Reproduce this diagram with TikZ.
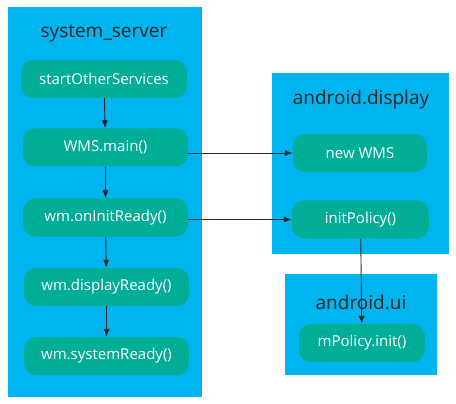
\documentclass[tikz,border=0pt]{standalone}
\usepackage{fontspec}
\usetikzlibrary{arrows.meta}
\setmainfont{Open Sans}
\definecolor{boxblue}{RGB}{0,180,240}
\definecolor{stepgreen}{RGB}{0,174,152}
\tikzset{
  proc/.style={fill=stepgreen,text=white,rounded corners=12pt,minimum height=38pt,font=\fontsize{15}{17}\selectfont},
  title/.style={font=\fontsize{19}{22}\selectfont,text=black!85},
  lane/.style={fill=boxblue,draw=none},
  link/.style={draw=black!85,line width=0.9pt,-{Latex[length=8pt,width=6pt]}}
}
\begin{document}
\begin{tikzpicture}[x=1pt,y=-1pt]
\useasboundingbox (0,0) rectangle (456,404);
\fill[white] (0,0) rectangle (456,404);
\draw[lane] (8,7) rectangle (202,397);
\draw[lane] (272,73) rectangle (449,254);
\draw[lane] (285,274) rectangle (437,375);
\node[title] (t1) at (104,34) {system\_server};
\node[title] (t2) at (361,100) {android.display};
\node[title] (t3) at (361,302) {android.ui};
\node[proc,minimum width=166pt] (s1) at (104,79) {startOtherServices};
\node[proc,minimum width=165pt] (s2) at (105.5,147.5) {WMS.main()};
\node[proc,minimum width=165pt] (s3) at (105.5,217.5) {wm.onInitReady()};
\node[proc,minimum width=165pt] (s4) at (106.5,287) {wm.displayReady()};
\node[proc,minimum width=165pt] (s5) at (106.5,356) {wm.systemReady()};
\node[proc,minimum width=134pt] (d1) at (360,153) {new WMS};
\node[proc,minimum width=137pt] (d2) at (360.5,219.5) {initPolicy()};
\node[proc,minimum width=126pt] (u1) at (362,343) {mPolicy.init()};
\draw[link] (s1) -- (s2);
\draw[link] (s2) -- (s3);
\draw[link] (s3) -- (s4);
\draw[link] (s4) -- (s5);
\draw[link] (s2.east |- d1.west) -- (d1.west);
\draw[link] (s3.east |- d2.west) -- (d2.west);
\draw[link] (d2) -- (u1);
\end{tikzpicture}
\end{document}
